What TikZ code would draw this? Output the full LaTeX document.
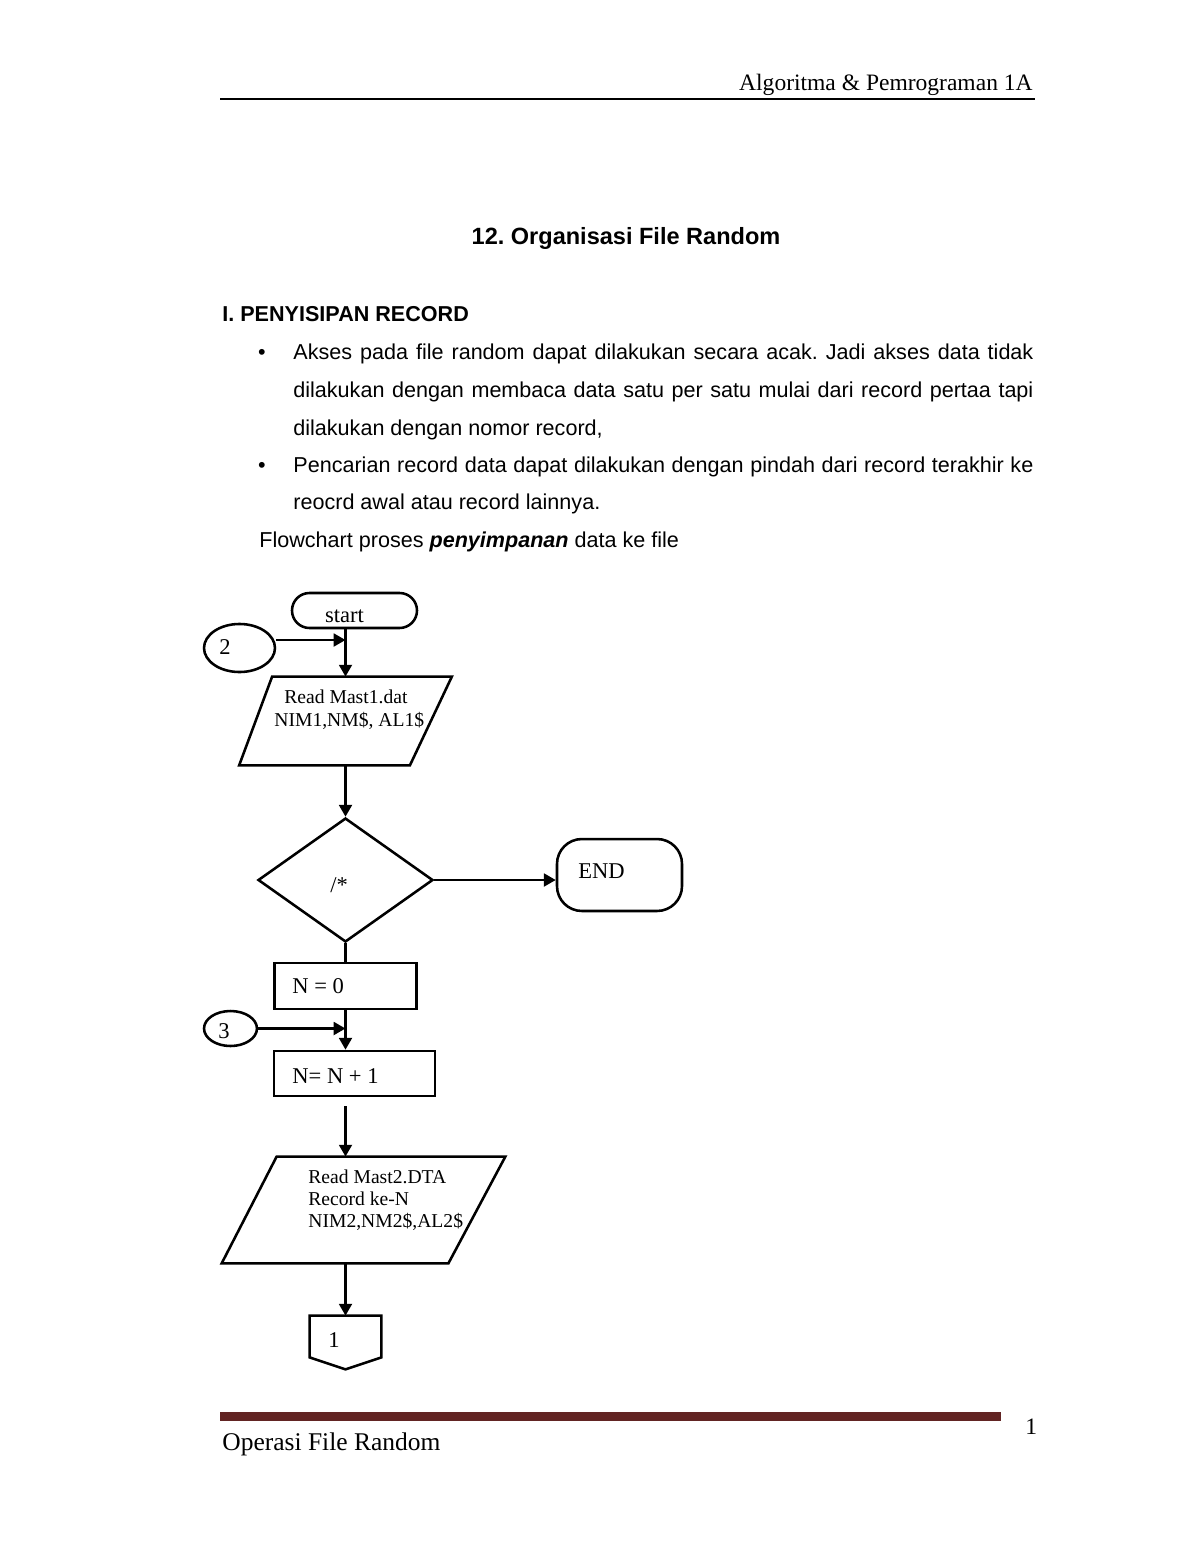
\documentclass[tikz,border=0pt]{standalone}
\usepackage{fontspec}
\setmainfont{Liberation Serif}
\newfontfamily\arialfont{Liberation Sans}
\usetikzlibrary{shapes.geometric,arrows.meta,calc}
\definecolor{footred}{HTML}{622423}
\frenchspacing
\tikzset{
  flow/.style={draw=black, line width=1.3pt, inner sep=0pt},
  arr/.style={line width=1.3pt, -{Triangle[length=6pt,width=6.5pt]}},
  ftxt/.style={inner sep=0pt, anchor=base west, font=\fontsize{10}{12}\selectfont},
  fbig/.style={inner sep=0pt, anchor=base west, font=\fontsize{11.5}{13}\selectfont},
  body/.style={inner sep=0pt, anchor=base west, font=\arialfont\fontsize{11}{13}\selectfont},
}
\begin{document}
\begin{tikzpicture}[x=0.51pt,y=-0.51pt]
\useasboundingbox (0,0) rectangle (1200,1553);
\fill[white] (0,0) rectangle (1200,1553);

% header
\node[inner sep=0pt, anchor=base east, font=\fontsize{12}{14}\selectfont] (hdr) at (1033,91) {Algoritma \& Pemrograman 1A};
\draw[line width=1.5pt] (220,99) -- (1035,99);

% title and text
\node[inner sep=0pt, anchor=base, font=\arialfont\bfseries\fontsize{12}{14}\selectfont] (title) at (626,245) {12. Organisasi File Random};
\node[inner sep=0pt, anchor=base west, font=\arialfont\bfseries\fontsize{11}{13}\selectfont] (head) at (222,321) {I. PENYISIPAN RECORD};
\node[body, anchor=base] (b1) at (262,359) {•};
\node[body] (l1) at (293,359) {\makebox[377.4pt][s]{Akses pada file random dapat dilakukan secara acak. Jadi akses data tidak}};
\node[body] (l2) at (293,397) {\makebox[377.4pt][s]{dilakukan dengan membaca data satu per satu mulai dari record pertaa tapi}};
\node[body] (l3) at (293,435) {dilakukan dengan nomor record,};
\node[body, anchor=base] (b2) at (262,472) {•};
\node[body] (l4) at (293,472) {\makebox[377.4pt][s]{Pencarian record data dapat dilakukan dengan pindah dari record terakhir ke}};
\node[body] (l5) at (293,509) {reocrd awal atau record lainnya.};
\node[body] (l6) at (259,547) {Flowchart proses \textbf{\textit{penyimpanan}} data ke file};

% flowchart shapes
\coordinate (col) at (345.5,0);
\node[flow, rounded corners=8.9pt, minimum width=63.75pt, minimum height=17.85pt] (start) at (354.5,610.5) {};
\node[fbig, anchor=base] (startt) at (344.5,622) {start};

\node[flow, ellipse, minimum width=36.2pt, minimum height=24.5pt] (c2) at (239.5,648) {};
\node[fbig] (c2t) at (219,654) {2};

\node[inner sep=0pt, minimum width=108.1pt, minimum height=44.9pt] (p1) at (345.5,721) {};
\draw[flow] ($(p1.north west)+(33,0)$) -- (p1.north east) -- ($(p1.south east)+(-42,0)$) -- (p1.south west) -- cycle;
\node[ftxt] (p1a) at (284,703) {Read Mast1.dat};
\node[ftxt] (p1b) at (274,726) {NIM1,NM\$, AL1\$};

\node[flow, diamond, minimum width=89.25pt, minimum height=63.24pt] (dec) at (345.5,880) {};
\node[fbig] (dect) at (330,892) {/*};

\node[flow, rounded corners=12.7pt, minimum width=63.75pt, minimum height=36.7pt] (end) at (619.5,875) {};
\node[fbig] (endt) at (578,878) {END};

\node[flow, minimum width=72.4pt, minimum height=23.5pt] (n0) at (345.5,986) {};
\node[fbig] (n0t) at (292,993) {N = 0};

\node[flow, ellipse, minimum width=27pt, minimum height=17.85pt] (c3) at (230.5,1028.5) {};
\node[fbig] (c3t) at (218,1038) {3};

\node[flow, minimum width=82.1pt, minimum height=23pt] (n1) at (354.5,1073.5) {};
\node[fbig] (n1t) at (292,1083) {N= N + 1};

\node[inner sep=0pt, minimum width=144.3pt, minimum height=54.1pt] (p2) at (363.5,1210) {};
\draw[flow] ($(p2.north west)+(55,0)$) -- (p2.north east) -- ($(p2.south east)+(-57,0)$) -- (p2.south west) -- cycle;
\node[ftxt] (p2a) at (308,1183) {Read Mast2.DTA};
\node[ftxt] (p2b) at (308,1205) {Record ke-N};
\node[ftxt] (p2c) at (308,1227) {NIM2,NM2\$,AL2\$};

\node[inner sep=0pt, minimum width=36.2pt, minimum height=27pt] (c1) at (345.5,1342.5) {};
\draw[flow] (c1.north west) -- (c1.north east) -- ($(c1.south east)+(0,-12)$) -- (c1.south) -- ($(c1.south west)+(0,-12)$) -- cycle;
\node[fbig] (c1t) at (328,1347) {1};

% connectors
\coordinate (j2) at (345.5,640);
\coordinate (j3) at (345.5,1028.5);
\draw[arr] (p1.north |- start.south) -- (p1.north);
\draw[arr] (c2.east |- j2) -- (j2);
\draw[arr] (p1.south) -- (dec.north);
\draw[arr] (dec.east) -- (dec.east -| end.west);
\draw[line width=1.3pt] (dec.south) -- (n0.north);
\draw[arr] (n0.south) -- (n0.south |- n1.north);
\draw[arr] (c3.east) -- (j3);
\draw[arr, shorten <=4.6pt] (col |- n1.south) -- (col |- p2.north);
\draw[arr] (col |- p2.south) -- (c1.north);

% footer
\fill[footred] (220,1412) rectangle (1001,1421);
\node[inner sep=0pt, anchor=base west, font=\fontsize{13}{15}\selectfont] (foot) at (222,1450) {Operasi File Random};
\node[inner sep=0pt, anchor=base west, font=\fontsize{12}{14}\selectfont] (pg) at (1025,1434) {1};
\end{tikzpicture}
\end{document}
